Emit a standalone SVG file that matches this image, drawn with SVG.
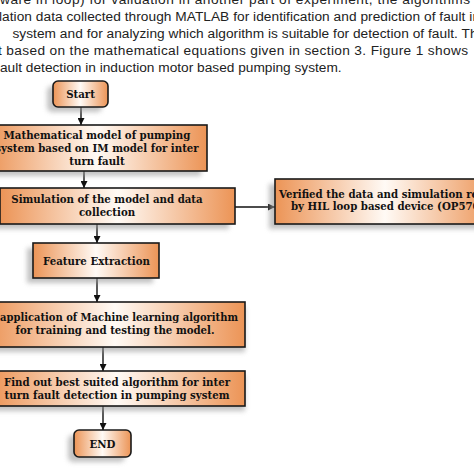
<svg xmlns="http://www.w3.org/2000/svg" width="474" height="474" viewBox="0 0 474 474">
<defs>
<style>
.para{font-family:"Liberation Sans",Arial,sans-serif;font-size:13.7px;fill:#222}
.lbl{font-family:"DejaVu Serif","Liberation Serif",serif;font-weight:bold;font-size:10.2px;fill:#111}
.box{fill:url(#g);stroke:#1a1a1a;stroke-width:1.6}
.sh{fill:#9a9a9a;filter:url(#blur);opacity:0.6}
.con{stroke:#111;stroke-width:1.4;fill:none;marker-end:url(#ah)}
</style>
<linearGradient id="g" x1="0" y1="0" x2="1" y2="0">
<stop offset="0" stop-color="#EC9456"/>
<stop offset="0.5" stop-color="#FFFAF5"/>
<stop offset="1" stop-color="#EC9456"/>
</linearGradient>
<filter id="blur" x="-20%" y="-50%" width="140%" height="200%"><feGaussianBlur stdDeviation="2.5"/></filter>
<marker id="ah" viewBox="0 0 10 10" refX="10" refY="5" markerWidth="7" markerHeight="7" markerUnits="userSpaceOnUse" orient="auto"><path d="M0,0 L10,5 L0,10 z" fill="#111"/></marker>
</defs>
<rect width="474" height="474" fill="#fff"/>
<g id="paragraph">
<text class="para" x="0" y="3.5" textLength="478" lengthAdjust="spacing">ware in loop) for validation in another part of experiment, the algorithms i</text>
<text class="para" x="-1" y="20.7" textLength="481" lengthAdjust="spacing">lation data collected through MATLAB for identification and prediction of fault in</text>
<text class="para" x="12.5" y="37.9" textLength="465" lengthAdjust="spacing">system and for analyzing which algorithm is suitable for detection of fault. Th</text>
<text class="para" x="-2" y="55.1" textLength="470" lengthAdjust="spacing">t based on the mathematical equations given in section 3. Figure 1 shows</text>
<text class="para" x="0" y="72.3">ault detection in induction motor based pumping system.</text>
</g>
<g id="connectors">
<line class="con" x1="81" y1="107" x2="81" y2="125"/>
<line class="con" x1="84" y1="171" x2="84" y2="188"/>
<line class="con" x1="97" y1="224" x2="97" y2="243"/>
<line class="con" x1="235" y1="207" x2="275" y2="207"/>
<line class="con" x1="97" y1="278" x2="97" y2="302"/>
<line class="con" x1="103" y1="347" x2="103" y2="371"/>
<line class="con" x1="103" y1="406" x2="103" y2="430"/>
</g>
<g id="start">
<rect class="sh" x="47" y="86" width="55" height="26" rx="5"/>
<rect class="box" x="53" y="81" width="55" height="26" rx="5"/>
<text class="lbl" x="80.5" y="98" text-anchor="middle">Start</text>
</g>
<g id="math-model">
<rect class="sh" x="-19" y="130" width="220" height="46"/>
<rect class="box" x="-13" y="125" width="220" height="46"/>
<text class="lbl" text-anchor="middle"><tspan x="97" y="138.5">Mathematical model of pumping</tspan><tspan x="97" y="151.5">system based on IM model for inter</tspan><tspan x="97" y="164.5">turn fault</tspan></text>
</g>
<g id="simulation">
<rect class="sh" x="-6" y="193" width="235" height="36"/>
<rect class="box" x="0" y="188" width="235" height="36"/>
<text class="lbl" text-anchor="middle"><tspan x="107" y="203">Simulation of the model and data</tspan><tspan x="107" y="216">collection</tspan></text>
</g>
<g id="verified">
<rect class="sh" x="269" y="184" width="220" height="45"/>
<rect class="box" x="275" y="179" width="220" height="45"/>
<text class="lbl"><tspan x="279" y="197.5">Verified the data and simulation results</tspan><tspan x="291" y="210">by HIL loop based device (OP5700)</tspan></text>
</g>
<g id="feature-extraction">
<rect class="sh" x="27" y="248" width="126" height="35"/>
<rect class="box" x="33" y="243" width="126" height="35"/>
<text class="lbl" x="96.5" y="264.5" text-anchor="middle">Feature Extraction</text>
</g>
<g id="ml-application">
<rect class="sh" x="-21" y="307" width="266" height="45"/>
<rect class="box" x="-15" y="302" width="260" height="45"/>
<text class="lbl"><tspan x="0" y="321" textLength="238" lengthAdjust="spacingAndGlyphs">application of Machine learning algorithm</tspan><tspan x="115" y="333.5" text-anchor="middle">for training and testing the model.</tspan></text>
</g>
<g id="best-algorithm">
<rect class="sh" x="-17" y="376" width="262" height="35"/>
<rect class="box" x="-11" y="371" width="256" height="35"/>
<text class="lbl" text-anchor="middle"><tspan x="117" y="385.5">Find out best suited algorithm for inter</tspan><tspan x="117" y="398.5">turn fault detection in pumping system</tspan></text>
</g>
<g id="end">
<rect class="sh" x="68" y="435" width="57" height="27" rx="5"/>
<rect class="box" x="74" y="430" width="57" height="27" rx="5"/>
<text class="lbl" x="102.5" y="447.5" text-anchor="middle">END</text>
</g>
</svg>
